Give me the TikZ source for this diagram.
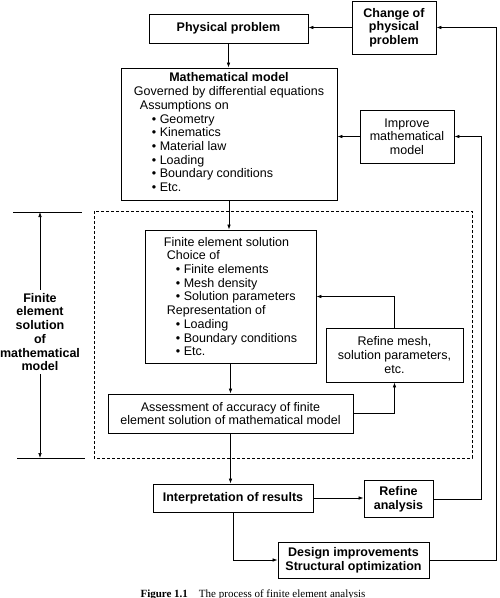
\documentclass[tikz,border=0pt]{standalone}
\usepackage{fontspec}
\setmainfont{Liberation Sans}
\newfontfamily\capfont{Liberation Serif}
\usetikzlibrary{arrows.meta,calc}
\newcommand{\figsize}{\fontsize{12.5}{13.7}\selectfont}

\begin{document}
\begin{tikzpicture}[x=1pt, y=-1pt, font=\figsize, >={Latex[length=5pt,width=3.6pt]},
  box/.style={draw, line width=0.9pt, align=center, inner sep=2pt},
  bbox/.style={box, font=\figsize\bfseries},
  flow/.style={->, line width=0.7pt},
  frame/.style={draw, line width=0.5pt, dash pattern=on 3pt off 2pt}]
\useasboundingbox (0,0) rectangle (500,598);
% TOP: problem and model
\node[bbox, minimum width=159, minimum height=29] (phys) at (228.5,28.5) {Physical problem};
\node[bbox, minimum width=84, minimum height=53] (change) at (394,27.5) {Change of\\physical\\problem};
\node[box, minimum width=216, minimum height=132] (math) at (229,134) {\begin{tabular}{@{}l@{}}
  \multicolumn{1}{@{}c@{}}{\bfseries Mathematical model}\\
  Governed by differential equations\\
  \hspace*{6pt}Assumptions on\\
  \hspace*{18pt}\textbullet{} Geometry\\
  \hspace*{18pt}\textbullet{} Kinematics\\
  \hspace*{18pt}\textbullet{} Material law\\
  \hspace*{18pt}\textbullet{} Loading\\
  \hspace*{18pt}\textbullet{} Boundary conditions\\
  \hspace*{18pt}\textbullet{} Etc.
\end{tabular}};
\node[box, minimum width=94, minimum height=53] (improve) at (407,136.5) {Improve\\mathematical\\model};
% MIDDLE: finite element solution
\draw[frame] (94,211) rectangle (472,458);
\node[box, align=left, minimum width=171, minimum height=133] (fes) at (230.5,296.5) {Finite element solution\\
  \hspace*{3pt}Choice of\\
  \hspace*{12pt}\textbullet{} Finite elements\\
  \hspace*{12pt}\textbullet{} Mesh density\\
  \hspace*{12pt}\textbullet{} Solution parameters\\
  \hspace*{3pt}Representation of\\
  \hspace*{12pt}\textbullet{} Loading\\
  \hspace*{12pt}\textbullet{} Boundary conditions\\
  \hspace*{12pt}\textbullet{} Etc.};
\node[box, minimum width=137, minimum height=54] (refmesh) at (394.5,355) {Refine mesh,\\solution parameters,\\etc.};
\node[box, minimum width=245, minimum height=39] (assess) at (230.5,413.5) {Assessment of accuracy of finite\\element solution of mathematical model};
% LEFT: extent of the solution
\node[font=\figsize\bfseries, align=center, inner sep=3pt] (lbl) at (40,332) {Finite\\element\\solution\\of\\mathematical\\model};
\coordinate (dimtop) at (40,212);
\coordinate (dimbot) at (40,458);
\draw[line width=0.6pt] (13,212) -- (82,212);
\draw[line width=0.6pt] (17,458) -- (85,458);
\draw[flow] (lbl.north) -- (dimtop);
\draw[flow] (lbl.south) -- (dimbot);
% BOTTOM: results
\node[bbox, minimum width=160, minimum height=28] (interp) at (233,498) {Interpretation of results};
\node[bbox, minimum width=69, minimum height=37] (refan) at (398.5,499) {Refine\\analysis};
\node[bbox, minimum width=151, minimum height=36] (design) at (353.5,560) {Design improvements\\Structural optimization};
\node[font=\capfont\fontsize{11}{12}\selectfont, anchor=base] (cap) at (253,597) {\textbf{Figure 1.1}\quad The process of finite element analysis};
% connectors
\coordinate (rin) at (481,0);
\coordinate (rout) at (496,0);
\draw[flow] (phys.south) -- (phys.south |- math.north);
\draw[flow] (change.west) -- (change.west -| phys.east);
\draw[flow] (improve.west) -- (improve.west -| math.east);
\draw[flow] (math.south) -- (math.south |- fes.north);
\draw[flow] (fes.south) -- (fes.south |- assess.north);
\draw[flow] (refmesh.north) |- (fes.east);
\draw[flow] (assess.east) -| (refmesh.south);
\draw[flow] (assess.south) -- (assess.south |- interp.north);
\draw[flow] (interp.east) -- (interp.east -| refan.west);
\draw[flow] (interp.south) |- (design.west);
\draw[flow] (refan.east) -| (rin |- improve.east) -- (improve.east);
\draw[flow] (design.east) -| (rout |- change.east) -- (change.east);
\end{tikzpicture}
\end{document}
